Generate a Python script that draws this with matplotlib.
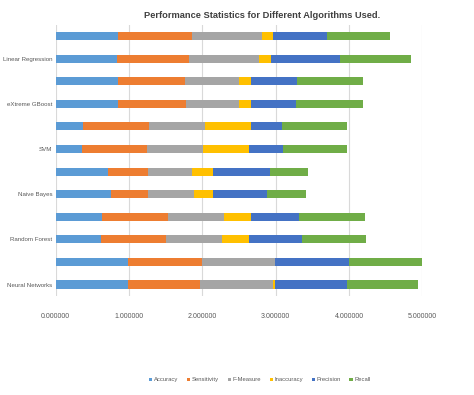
import matplotlib.pyplot as plt
import numpy as np

# categories from bottom to top (every other row has no label in the source)
categories = ["Neural Networks", "", "Random Forest", "", "Naive Bayes", "",
              "SVM", "", "eXtreme GBoost", "", "Linear Regression", ""]

accuracy    = [0.982, 0.990, 0.618, 0.636, 0.750, 0.718, 0.355, 0.377, 0.846, 0.854, 0.842, 0.851]
sensitivity = [0.987, 1.010, 0.883, 0.900, 0.513, 0.537, 0.886, 0.896, 0.927, 0.910, 0.977, 1.003]
f_measure   = [0.991, 0.992, 0.764, 0.760, 0.628, 0.609, 0.773, 0.764, 0.732, 0.737, 0.955, 0.964]
inaccuracy  = [0.032, 0.005, 0.376, 0.364, 0.259, 0.278, 0.627, 0.623, 0.155, 0.159, 0.159, 0.150]
precision   = [0.986, 1.000, 0.715, 0.663, 0.737, 0.782, 0.464, 0.431, 0.618, 0.628, 0.946, 0.729]
recall      = [0.969, 0.992, 0.877, 0.897, 0.524, 0.522, 0.865, 0.887, 0.919, 0.909, 0.968, 0.865]

series = [("Accuracy", accuracy, "#5B9BD5"),
          ("Sensitivity", sensitivity, "#ED7D31"),
          ("F-Measure", f_measure, "#A5A5A5"),
          ("Inaccuracy", inaccuracy, "#FFC000"),
          ("Precision", precision, "#4472C4"),
          ("Recall", recall, "#70AD47")]

xticks = [0, 1, 2, 3, 4, 5]

plt.rcParams['font.family'] = ['Liberation Sans', 'DejaVu Sans']

fig = plt.figure(figsize=(4.74, 3.95), dpi=100)
ax = fig.add_axes([0.1175, 0.251, 0.7735, 0.6865])

y = np.arange(len(categories))
left = np.zeros(len(categories))
for name, vals, color in series:
    vals = np.array(vals)
    ax.barh(y, vals, left=left, height=0.36, color=color, label=name, zorder=2)
    left = left + vals

ax.set_xlim(0, 5)
ax.set_ylim(-0.5, len(categories) - 0.5)
ax.set_xticks(xticks)
ax.set_xticklabels(["%.6f" % v for v in xticks])
ax.set_yticks(y)
ax.set_yticklabels(categories)
ax.tick_params(axis='both', length=0, colors='#595959')
ax.tick_params(axis='x', pad=12, labelsize=5)
ax.tick_params(axis='y', pad=2.5, labelsize=4.4)
ax.grid(axis='x', color='#D9D9D9', linewidth=0.8, zorder=0)
for s in ax.spines.values():
    s.set_visible(False)

ax.set_title("Performance Statistics for Different Algorithms Used.",
             fontsize=6.7, fontweight='bold', color='#404040', pad=5, x=0.563)

fig.legend(loc='center', bbox_to_anchor=(0.548, 0.038), ncol=6,
           fontsize=4.2, frameon=False, handlelength=0.55, handleheight=0.55,
           columnspacing=1.5, handletextpad=0.25, labelcolor='#595959')

plt.savefig("out.png", dpi=100)
plt.close()
